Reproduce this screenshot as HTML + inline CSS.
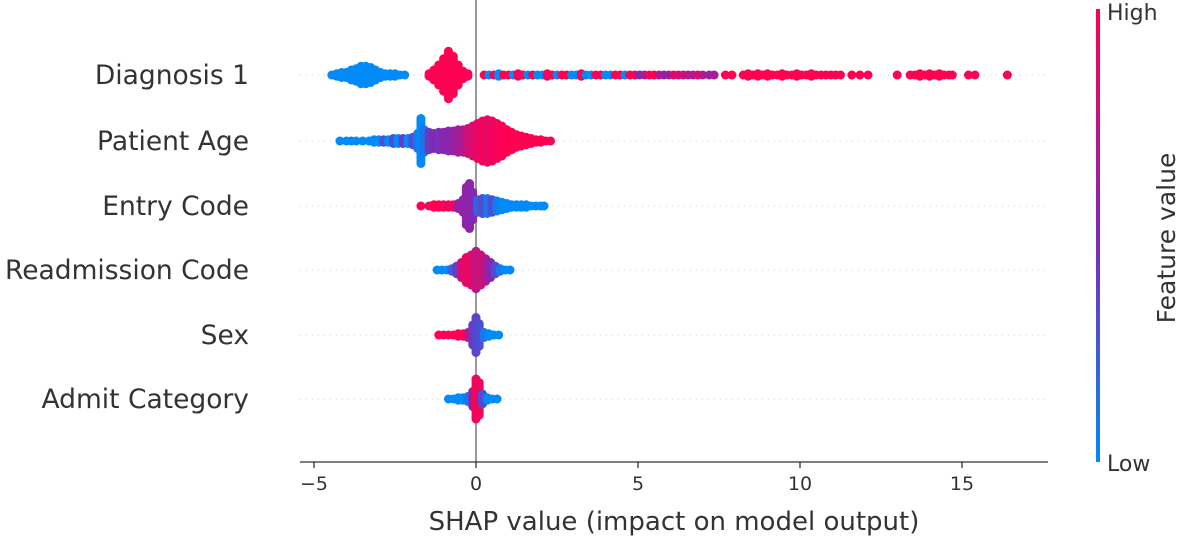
<!DOCTYPE html>
<html><head><meta charset="utf-8"><style>
body{margin:0;background:#fff;}
svg{display:block;font-family:"DejaVu Sans","Liberation Sans",sans-serif;}
</style></head><body>
<svg id="chart" width="1181" height="539" viewBox="0 0 1181 539" xmlns="http://www.w3.org/2000/svg">
<defs><linearGradient id="cb" x1="0" y1="1" x2="0" y2="0">
<stop offset="0" stop-color="rgb(0,138,250)"/><stop offset="0.5" stop-color="rgb(130,40,180)"/><stop offset="1" stop-color="rgb(255,0,82)"/></linearGradient></defs>
<g id="grid"></g>
<line x1="476" y1="0" x2="476" y2="462" stroke="#999" stroke-width="2"/>
<g id="dots"></g>
<g id="axis"></g>
<rect x="1096" y="9" width="4" height="453" fill="url(#cb)"/>
<text x="1107" y="20" font-size="22" fill="#333">High</text>
<text x="1107" y="471" font-size="22" fill="#333">Low</text>
<text x="1168" y="238" font-size="25" fill="#333" text-anchor="middle" transform="rotate(-90 1168 238)" dominant-baseline="middle">Feature value</text>
<text x="674" y="530" font-size="26" fill="#333" text-anchor="middle">SHAP value (impact on model output)</text>
</svg>
<script>
const features=["Diagnosis 1","Patient Age","Entry Code","Readmission Code","Sex","Admit Category"];
const rowY=[75,141,206,270,335,399];
const ticks=[-5,0,5,10,15];
// per-row bins: shap value, dot count, feature value (0 low,1 high)
const d1x=[-4.45,-4.3,-4.15,-4.0,-3.85,-3.7,-3.55,-3.4,-3.25,-3.1,-2.95,-2.8,-2.65,-2.5,-2.35,-2.2,
-1.45,-1.3,-1.15,-1.0,-0.85,-0.7,-0.55,-0.4,-0.25,
0.25,0.4,0.55,0.7,0.85,1.0,1.15,1.3,1.45,1.6,1.75,1.9,2.05,2.2,2.35,2.5,2.65,2.8,2.95,3.1,3.25,3.4,3.55,3.7,3.85,4.0,4.15,4.3,4.45,4.6,4.75,4.9,5.05,5.2,5.35,5.5,5.65,5.8,5.95,6.1,6.25,6.4,6.55,6.7,6.85,7.0,7.2,7.35,
7.7,7.9,8.25,8.4,8.55,8.7,8.85,9.0,9.15,9.3,9.45,9.6,9.75,9.9,10.05,10.2,10.35,10.5,10.65,10.8,10.95,11.1,11.25,11.6,11.85,12.1,13.0,13.4,13.55,13.7,13.85,14.0,14.15,14.3,14.45,14.6,14.7,15.2,15.4,16.4];
const d1n=[1,2,3,3,5,6,8,8,7,5,3,2,2,2,1,1,
2,5,9,14,20,16,9,4,2,
1,1,1,2,1,1,1,2,1,1,1,1,1,2,1,1,1,1,1,1,2,1,1,1,1,1,1,1,1,1,1,1,1,1,1,1,1,1,1,1,1,1,1,1,1,1,1,1,
1,1,1,2,1,2,1,2,1,1,2,1,1,2,1,1,2,1,1,1,1,1,1,1,1,1,1,1,1,2,1,2,1,2,1,1,1,1,1,1];
const d1c=[0,0,0,0,0,0,0,0,0,0,0,0,0,0,0,0,
1,1,1,1,1,1,1,1,1,
1,0,1,0,1,1,0,1,1,0,1,0,0,1,1,0,1,1,0,0,1,0,0,1,1,0,0,1,1,0,1,1,0.5,0.6,1,1,0.7,0.6,0.55,0.9,0.85,0.8,0.75,0.65,0.9,0.7,0.6,0.65,
1,1,1,1,1,1,1,1,1,1,1,1,1,1,1,1,1,1,1,1,1,1,1,1,1,1,1,1,1,1,1,1,1,1,1,1,1,1,1,1];
const agex=[-4.2,-4.0,-3.85,-3.7,-3.5,-3.3,-3.15,-3.0,-2.85,-2.7,-2.55,-2.4,-2.25,-2.1,-1.95,-1.8,-1.7,-1.6,-1.45,-1.3,-1.15,-1.0,-0.85,-0.7,-0.55,-0.4,-0.25,-0.1,0.05,0.2,0.35,0.5,0.65,0.8,0.95,1.1,1.25,1.4,1.55,1.7,1.85,2.0,2.15,2.3];
const agen=[1,1,1,1,1,1,2,2,2,2,3,3,3,3,4,7,19,10,8,7,8,8,9,9,10,10,11,13,15,17,18,17,15,13,10,8,6,5,4,3,2,2,1,1];
const agec=[0,0,0,0,0,0,0,0,0.3,0,0.3,0,0.4,0,0.3,0.1,0,0.1,0.4,0.5,0.45,0.55,0.5,0.6,0.6,0.7,0.8,0.85,0.9,0.95,0.9,0.95,0.95,1,1,1,1,1,1,1,1,1,1,1];
const entx=[-1.7,-1.45,-1.3,-1.15,-1.0,-0.85,-0.7,-0.55,-0.4,-0.3,-0.2,-0.1,0.05,0.2,0.35,0.5,0.65,0.8,0.95,1.1,1.25,1.4,1.55,1.7,1.85,2.0,2.1];
const entn=[1,1,2,2,2,2,2,3,6,16,19,12,6,7,7,6,5,4,3,2,2,2,2,1,1,1,1];
const entc=[1,1,1,1,1,0.9,1,0.6,0.55,0.55,0.55,0.5,0.2,0.3,0.1,0.3,0.05,0,0,0,0,0,0,0,0,0,0];
const readx=[-1.2,-1.05,-0.9,-0.75,-0.6,-0.45,-0.3,-0.15,0.0,0.15,0.3,0.45,0.6,0.75,0.9,1.05];
const readn=[1,1,1,2,4,7,11,13,16,13,10,7,4,2,1,1];
const readc=[0,0,0,0.2,0.4,0.85,0.9,0.9,0.75,0.8,0.7,0.5,0.3,0.1,0,0];
const sexx=[-1.15,-1.0,-0.85,-0.7,-0.55,-0.4,-0.25,-0.1,0.0,0.1,0.25,0.4,0.55,0.7];
const sexn=[1,1,1,1,2,2,3,9,15,10,3,2,1,1];
const sexc=[1,1,1,1,1,1,0.8,0.4,0.35,0.3,0.1,0,0,0];
const admx=[-0.85,-0.7,-0.55,-0.4,-0.25,-0.1,0.0,0.1,0.2,0.35,0.5,0.65];
const admn=[1,1,2,2,3,7,17,14,5,2,1,1];
const admc=[0,0,0,0,0.1,0.6,0.95,0.95,0.3,0,0,0];
const rowsX=[d1x,agex,entx,readx,sexx,admx];
const rowsN=[d1n,agen,entn,readn,sexn,admn];
const rowsC=[d1c,agec,entc,readc,sexc,admc];

const NS="http://www.w3.org/2000/svg";
const xs=v=>476+v*32.4;
function col(t){if(t===undefined)t=1;const a=[0,138,250],m=[130,40,180],b=[255,0,82];let p,q,f;
 if(t<0.5){p=a;q=m;f=t/0.5}else{p=m;q=b;f=(t-0.5)/0.5}
 return `rgb(${p.map((v,i)=>Math.round(v+(q[i]-v)*f)).join(",")})`;}
function mk(tag,attrs,parent){const e=document.createElementNS(NS,tag);for(const k in attrs)e.setAttribute(k,attrs[k]);parent.appendChild(e);return e;}
const grid=document.getElementById("grid"),dots=document.getElementById("dots"),axis=document.getElementById("axis");
features.forEach((f,r)=>{
 const y=rowY[r];
 const gl=mk("line",{x1:300,x2:1048,y1:y,y2:y,stroke:"#ccc","stroke-width":1,"stroke-dasharray":"1,5"},grid);
 
 
 const t=mk("text",{x:249,y:y+9,"font-size":26.5,fill:"#333","text-anchor":"end"},axis);
 t.textContent=f;
 
 
 const g=mk("g",{},dots);
 
 
 const X=rowsX[r],N=rowsN[r],C=rowsC[r];
 X.forEach((v,i)=>{const n=N[i];for(let k=0;k<n;k++){
  const c=mk("circle",{cx:xs(v),cy:y+(k-(n-1)/2)*2.5,r:4.5,fill:col(C[i])},g);
  
  
 }});
});
const ax=mk("line",{x1:300,x2:1048,y1:462,y2:462,stroke:"#333","stroke-width":1.3},axis);


ticks.forEach(v=>{
 const tl=mk("line",{x1:xs(v),x2:xs(v),y1:462,y2:468,stroke:"#333","stroke-width":1.3},axis);
 
 
 const tt=mk("text",{x:xs(v),y:490,"font-size":19,fill:"#333","text-anchor":"middle"},axis);
 tt.textContent=v<0?"\u2212"+Math.abs(v):String(v);
 
 
});
</script>
</body></html>
